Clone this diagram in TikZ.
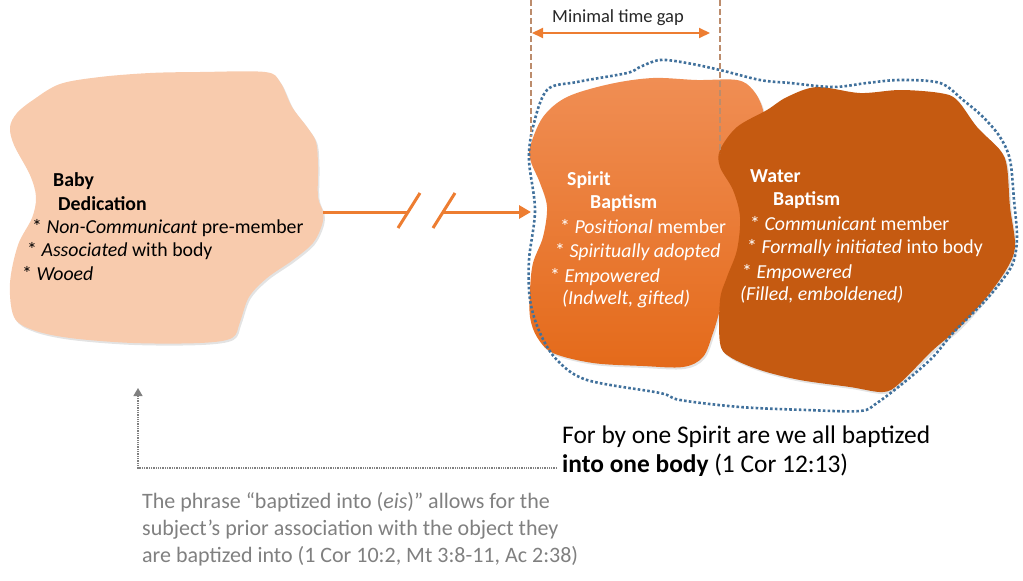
\documentclass[tikz,border=0pt]{standalone}
\usepackage{fontspec}
\setmainfont{Carlito}
\usetikzlibrary{arrows.meta,shadows}

\definecolor{peach}{RGB}{248,203,173}
\definecolor{spiritTop}{RGB}{240,142,84}
\definecolor{spiritBot}{RGB}{228,106,26}
\definecolor{waterFill}{RGB}{197,90,17}
\definecolor{flowOrange}{RGB}{237,125,49}
\definecolor{bodyBlue}{RGB}{65,113,156}
\definecolor{gapDash}{RGB}{188,140,108}
\definecolor{noteGray}{RGB}{128,128,128}

\tikzset{
  blob/.style={drop shadow={opacity=0.22, shadow xshift=1.5pt, shadow yshift=-2pt}},
  blobtext/.style={anchor=base west, inner sep=0pt, font=\fontsize{19.8}{24}\selectfont},
  flow/.style={draw=flowOrange, line width=3pt},
  gapline/.style={draw=gapDash, line width=1.8pt, dash pattern=on 6pt off 3pt},
}

\begin{document}
\begin{tikzpicture}[x=1pt, y=-1pt]
  \useasboundingbox (0,0) rectangle (1023,581);

  % Baby dedication blob (pixel coordinates, y grows downwards)
  \fill[peach, blob] plot[smooth cycle, tension=0.55] coordinates {
    (17,113) (33,100) (60,84) (100,77) (150,73) (200,72) (265,72)
    (280,82) (292,107) (307,127) (316,142) (318,165) (318,197)
    (323,212) (322,225) (313,243) (293,260) (267,278) (249,297)
    (240,322) (232,338) (200,343) (133,343) (70,338) (33,330)
    (14,317) (10,283) (18,245) (32,218) (36,197) (30,175) (14,145) (10,127)
  };

  % Spirit baptism blob, lighter at the top
  \shade[top color=spiritTop, bottom color=spiritBot, blob]
    plot[smooth cycle, tension=0.55] coordinates {
    (530,147) (543,117) (567,97) (610,84) (653,78) (697,80) (737,80)
    (753,90) (763,110) (765,140) (750,200) (735,260) (720,310)
    (713,333) (703,357) (683,367) (643,366) (593,363) (553,353)
    (537,337) (530,317) (530,290) (533,263) (543,237) (547,207)
    (540,183) (531,162)
  };

  % Water baptism blob, drawn over the spirit one
  \fill[waterFill, blob] plot[smooth cycle, tension=0.55] coordinates {
    (767,110) (787,97) (817,87) (860,93) (900,90) (940,93) (957,100)
    (977,127) (1000,150) (1007,167) (1010,207) (1015,243) (1010,263)
    (990,293) (960,327) (933,350) (900,383) (883,392) (850,387)
    (800,380) (760,370) (730,357) (720,343) (720,300) (727,277)
    (737,250) (740,217) (733,190) (720,167) (720,150) (737,127)
  };

  % One body: dotted outline round both baptisms
  \draw[bodyBlue, line width=2.6pt, dash pattern=on 2.6pt off 2.2pt]
    plot[smooth cycle, tension=0.55] coordinates {
    (547,90) (577,82) (627,73) (640,67) (660,60) (687,63) (720,70)
    (760,80) (790,83) (833,87) (867,83) (900,80) (940,83) (963,100)
    (983,117) (1000,137) (1010,160) (1014,200) (1017,237) (1013,263)
    (1000,283) (983,303) (953,333) (933,357) (907,380) (877,403)
    (860,411) (807,410) (740,407) (680,400) (660,393) (587,380)
    (557,360) (540,333) (530,300) (529,260) (535,210) (529,160) (533,127)
  };

  % Minimal time gap: dashed markers and double arrow
  \foreach \gx/\gy in {531/137, 720/153} {
    \draw[gapline] (\gx,0) -- (\gx,\gy);
  }
  \coordinate (gapL) at (532,33);
  \coordinate (gapR) at (710,33);
  \draw[draw=flowOrange, line width=2pt,
        {Triangle[length=11pt,width=10pt]}-{Triangle[length=11pt,width=10pt]}]
    (gapL) -- (gapR);
  \node[font=\fontsize{18.5}{22}\selectfont, text=black!85] (gapLabel) at (618,18) {Minimal time gap};

  % Broken arrow from dedication to spirit baptism
  \coordinate (babyR) at (323,212);
  \coordinate (breakA) at (408,212);
  \coordinate (breakB) at (443,212);
  \coordinate (spiritL) at (531,212);
  \draw[flow] (babyR) -- (breakA);
  \draw[flow, -{Triangle[length=12pt,width=13pt]}] (breakB) -- (spiritL);
  \draw[flow] (398,228) -- (420,193);
  \draw[flow] (433,228) -- (455,193);

  % Baby dedication text
  \node[blobtext] (babyA) at (53,186) {\textbf{Baby}};
  \node[blobtext] (babyB) at (58,210) {\textbf{Dedication}};
  \node[blobtext] (babyC) at (32,233) {* \textit{Non-Communicant} pre-member};
  \node[blobtext] (babyD) at (27,256) {* \textit{Associated} with body};
  \node[blobtext] (babyE) at (22,280) {* \textit{Wooed}};

  % Spirit baptism text
  \node[blobtext, text=white] (spiritA) at (567,185) {\textbf{Spirit}};
  \node[blobtext, text=white] (spiritB) at (590,208) {\textbf{Baptism}};
  \node[blobtext, text=white] (spiritC) at (560,233) {* \textit{Positional} member};
  \node[blobtext, text=white] (spiritD) at (555,257) {* \textit{Spiritually adopted}};
  \node[blobtext, text=white] (spiritE) at (550,282) {* \textit{Empowered}};
  \node[blobtext, text=white] (spiritF) at (562,304) {\textit{(Indwelt, gifted)}};

  % Water baptism text
  \node[blobtext, text=white] (waterA) at (750,182) {\textbf{Water}};
  \node[blobtext, text=white] (waterB) at (773,205) {\textbf{Baptism}};
  \node[blobtext, text=white] (waterC) at (750,230) {* \textit{Communicant} member};
  \node[blobtext, text=white] (waterD) at (747,253) {* \textit{Formally initiated} into body};
  \node[blobtext, text=white] (waterE) at (742,278) {* \textit{Empowered}};
  \node[blobtext, text=white] (waterF) at (740,300) {\textit{(Filled, emboldened)}};

  % Verse
  \node[anchor=base west, inner sep=0pt, font=\fontsize{25.4}{30}\selectfont] (verseA) at (562,443)
    {For by one Spirit are we all baptized};
  \node[anchor=base west, inner sep=0pt, font=\fontsize{25.4}{30}\selectfont] (verseB) at (562,472)
    {\textbf{into one body} (1 Cor 12:13)};

  % Dotted note arrow back to the dedication blob
  \coordinate (noteStart) at (557,468);
  \coordinate (babyFoot) at (138,388);
  \draw[noteGray, line width=1.3pt, dash pattern=on 1.3pt off 1pt,
        -{Triangle[length=8pt,width=9pt]}] (noteStart) -| (babyFoot);

  % Note on "baptized into"
  \node[anchor=base west, inner sep=0pt, text=noteGray, font=\fontsize{22}{27}\selectfont] (noteA) at (142,508)
    {The phrase “baptized into (\textit{eis})” allows for the};
  \node[anchor=base west, inner sep=0pt, text=noteGray, font=\fontsize{22}{27}\selectfont] (noteB) at (142,535)
    {subject’s prior association with the object they};
  \node[anchor=base west, inner sep=0pt, text=noteGray, font=\fontsize{22}{27}\selectfont] (noteC) at (142,562)
    {are baptized into (1 Cor 10:2, Mt 3:8-11, Ac 2:38)};

\end{tikzpicture}
\end{document}
